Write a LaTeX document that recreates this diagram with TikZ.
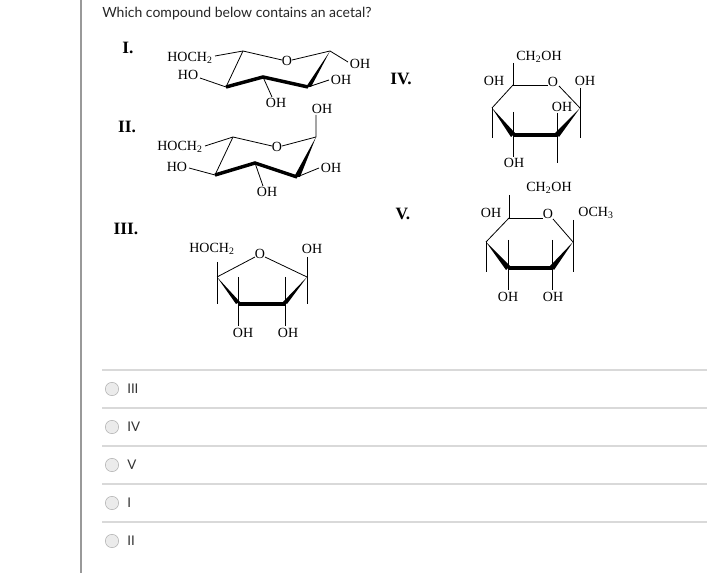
\documentclass[tikz,border=0pt]{standalone}
\usepackage{fontspec}
\setmainfont{Liberation Serif}
\newfontfamily\uifont{Lato}
\begin{document}
\begin{tikzpicture}[x=0.75pt,y=-0.75pt,
  bond/.style={line width=0.6pt},
  boldb/.style={line width=2.6pt},
  wedge/.style={fill=black},
  chem/.style={inner sep=0pt,font=\fontsize{10.5}{10}\selectfont},
  lab/.style={inner sep=0pt,font=\fontsize{13}{13}\selectfont\bfseries},
  ans/.style={inner sep=0pt,anchor=west,font=\uifont\fontsize{10}{10}\selectfont,text=black!80},
  sep/.style={draw=black!15,line width=0.8pt},
  radio/.style={circle,draw=black!30,fill=black!8,minimum size=10pt,inner sep=0pt}]
\useasboundingbox (0,0) rectangle (707,573);
\fill[white] (0,0) rectangle (707,573);
\draw[black!40,line width=0.8pt] (81,0) -- (81,573);
\node[anchor=west,inner sep=0pt,font=\uifont\fontsize{10.5}{10}\selectfont,text=black!85] (q) at (102,14) {Which compound below contains an acetal?};

% ---------- I ----------
\node[lab] (l1) at (128,48) {I.};
\node[chem] (i6) at (190,58) {HOCH\textsubscript{2}};
\node[chem] (i4) at (188,75) {HO};
\node[chem] (io) at (287,61) {O};
\node[chem] (i1) at (360,64) {OH};
\node[chem] (i2) at (341,80) {OH};
\node[chem] (i3) at (276,103) {OH};
\draw[bond] (215,56) -- (243,51) -- (282,60);
\draw[bond] (292,60) -- (330,51) -- (348,62);
\draw[bond] (243,51) -- (226,87);
\draw[bond] (200,78) -- (226,87);
\fill[wedge] (330,51) -- (306,87) -- (311,87) -- cycle;
\draw[boldb] (308,87) -- (263,77) -- (226,87);
\draw[bond] (308,87) -- (329,80);
\draw[bond] (263,77) -- (272,97);

% ---------- II ----------
\node[lab] (l2) at (127,127) {II.};
\node[chem] (ii6) at (180,147) {HOCH\textsubscript{2}};
\node[chem] (ii4) at (177,167) {HO};
\node[chem] (iio) at (277,147) {O};
\node[chem] (ii1) at (322,109) {OH};
\node[chem] (ii2) at (331,168) {OH};
\node[chem] (ii3) at (267,192) {OH};
\draw[bond] (205,146) -- (233,137) -- (272,146);
\draw[bond] (282,146) -- (316,137) -- (316,115);
\draw[bond] (233,137) -- (215,175);
\draw[bond] (189,168) -- (215,175);
\fill[wedge] (316,137) -- (294,177) -- (300,177) -- cycle;
\draw[boldb] (297,177) -- (255,163) -- (215,175);
\draw[bond] (297,177) -- (319,168);
\draw[bond] (255,163) -- (263,186);

% ---------- III ----------
\node[lab] (l3) at (126,229) {III.};
\node[chem] (iii5) at (212,249) {HOCH\textsubscript{2}};
\node[chem] (iiio) at (260,254) {O};
\node[chem] (iii1) at (312,249) {OH};
\node[chem] (iii3) at (243,333) {OH};
\node[chem] (iii2) at (288,333) {OH};
\draw[bond] (217,277) -- (255,257);
\draw[bond] (265,257) -- (307,277);
\draw[bond] (217,262) -- (217,304);
\draw[bond] (307,257) -- (307,304);
\draw[bond] (238,277) -- (238,326);
\draw[bond] (285,277) -- (285,326);
\fill[wedge] (217,277) -- (236,304) -- (240,302) -- cycle;
\fill[wedge] (307,277) -- (283,302) -- (287,304) -- cycle;
\draw[boldb] (238,304) -- (285,304);

% ---------- IV ----------
\node[lab] (l4) at (401,79) {IV.};
\node[chem] (iv6) at (539,57) {CH\textsubscript{2}OH};
\node[chem] (iv4) at (494,81) {OH};
\node[chem] (ivo) at (553,82) {O};
\node[chem] (iv1) at (585,81) {OH};
\node[chem] (iv2) at (562,107) {OH};
\node[chem] (iv3) at (514,163) {OH};
\draw[bond] (513,63) -- (513,85) -- (548,85);
\draw[bond] (559,86) -- (580,108);
\draw[bond] (513,85) -- (492,108);
\draw[bond] (492,108) -- (492,138);
\draw[bond] (580,88) -- (580,138);
\draw[bond] (513,112) -- (513,157);
\draw[bond] (557,113) -- (557,163);
\fill[wedge] (492,108) -- (511,137) -- (515,133) -- cycle;
\fill[wedge] (580,108) -- (555,133) -- (559,137) -- cycle;
\draw[boldb] (513,135) -- (557,135);

% ---------- V ----------
\node[lab] (l5) at (403,214) {V.};
\node[chem] (v6) at (549,188) {CH\textsubscript{2}OH};
\node[chem] (v4) at (491,213) {OH};
\node[chem] (vo) at (548,214) {O};
\node[chem] (v1) at (596,213) {OCH\textsubscript{3}};
\node[chem] (v3) at (508,297) {OH};
\node[chem] (v2) at (553,297) {OH};
\draw[bond] (509,195) -- (509,218) -- (543,218);
\draw[bond] (553,219) -- (573,242);
\draw[bond] (509,218) -- (486,242);
\draw[bond] (486,242) -- (486,272);
\draw[bond] (573,220) -- (573,272);
\draw[bond] (508,240) -- (508,290);
\draw[bond] (552,240) -- (552,290);
\fill[wedge] (486,242) -- (506,270) -- (510,266) -- cycle;
\fill[wedge] (573,242) -- (550,266) -- (554,270) -- cycle;
\draw[boldb] (508,268) -- (552,268);

% ---------- answers ----------
\foreach \y in {370,408,446,484,522} \draw[sep] (102,\y) -- (707,\y);
\node[radio] (r1) at (112,389) {}; \node[ans] (a1) at (127,389) {III};
\node[radio] (r2) at (112,427) {}; \node[ans] (a2) at (127,427) {IV};
\node[radio] (r3) at (112,465) {}; \node[ans] (a3) at (127,465) {V};
\node[radio] (r4) at (112,503) {}; \node[ans] (a4) at (127,503) {I};
\node[radio] (r5) at (112,541) {}; \node[ans] (a5) at (127,541) {II};
\end{tikzpicture}
\end{document}
